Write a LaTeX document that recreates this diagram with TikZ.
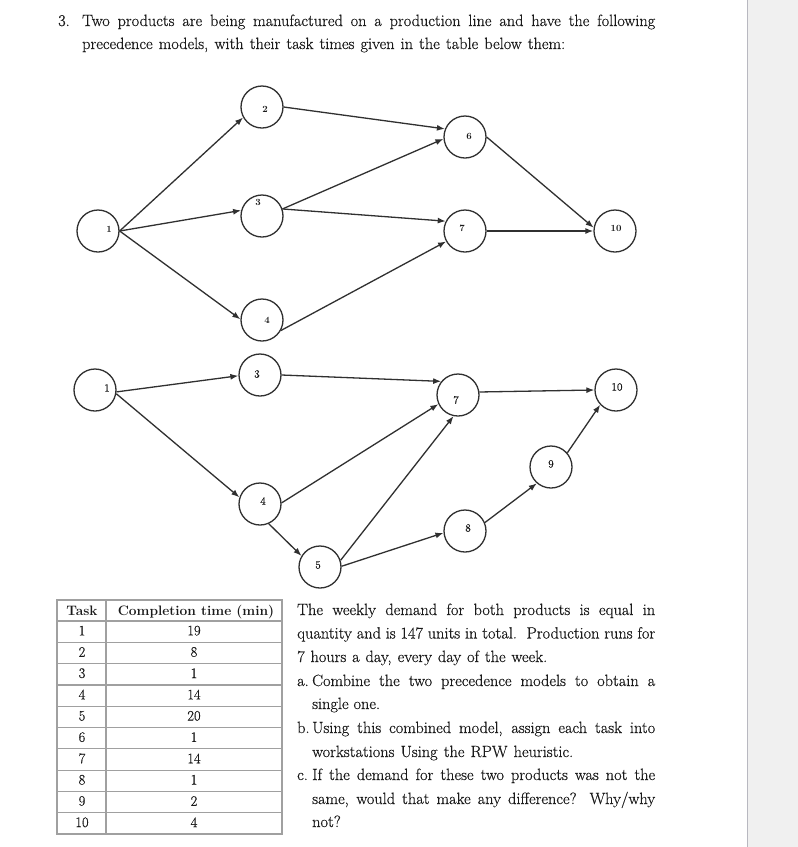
\documentclass[tikz,border=0pt]{standalone}
\usepackage{fontspec}
\newfontfamily\bodyfont{Latin Modern Roman}[FakeBold=0.5]
\usetikzlibrary{arrows.meta}
\definecolor{ink}{HTML}{1A1A1A}
\definecolor{edgec}{HTML}{303030}
\definecolor{tblc}{HTML}{A0A0A0}
\definecolor{sidec}{HTML}{F0F0F0}
\definecolor{sidelinec}{HTML}{B8B8C0}
\tikzset{
  task/.style={circle, draw=edgec, line width=1.3pt, minimum size=42pt, inner sep=0pt},
  lblU/.style={font=\fontsize{9.5}{10}\selectfont\bfseries, text=ink, inner sep=0pt},
  lblL/.style={font=\bodyfont\fontsize{11}{12}\selectfont, text=ink, inner sep=0pt},
  arr/.style={draw=edgec, line width=1.3pt, -{Latex[length=8pt,width=6pt]}},
  txt/.style={anchor=base west, inner sep=0pt, text=ink, font=\bodyfont\fontsize{16.3}{19}\selectfont},
  cell/.style={anchor=center, inner sep=0pt, text=ink, font=\bodyfont\fontsize{14.5}{16}\selectfont},
  hcell/.style={anchor=base, inner sep=0pt, text=ink, font=\fontsize{13.7}{16}\selectfont\bfseries},
  tline/.style={draw=tblc, line width=1.2pt},
}
\begin{document}
\begin{tikzpicture}[x=1pt,y=-1pt]
\useasboundingbox (0,0) rectangle (798,847);
\fill[white] (0,0) rectangle (798,847);
\fill[sidec] (747,0) rectangle (798,847);
\draw[sidelinec, line width=1pt] (747,0) -- (747,847);

% header text
\node[txt] (h1n) at (58,26) {3.};
\node[txt] (h1) at (82,26) {\makebox[573pt][s]{Two products are being manufactured on a production line and have the following}};
\node[txt] (h2) at (82,49) {\makebox[483pt][s]{precedence models, with their task times given in the table below them:}};

% upper precedence model
\node[task, label={[lblU,xshift=11pt,yshift=2pt]center:1}] (u1) at (98,231) {};
\node[task, label={[lblU,xshift=3pt,yshift=-2pt]center:2}] (u2) at (262,107) {};
\node[task, label={[lblU,xshift=-4pt,yshift=14pt]center:3}] (u3) at (262,216) {};
\node[task, label={[lblU,xshift=5pt,yshift=0pt]center:4}] (u4) at (262,320) {};
\node[task, label={[lblU,xshift=4pt,yshift=1pt]center:6}] (u6) at (465,137) {};
\node[task, label={[lblU,xshift=-3pt,yshift=3pt]center:7}] (u7) at (465,231) {};
\node[task, label={[lblU,xshift=1pt,yshift=3pt]center:10}] (u10) at (615,231) {};

\draw[arr] (u1.east) -- (u2.209);
\draw[arr] (u1.east) -- (u3.165);
\draw[arr] (u1.east) -- (u4.178);
\draw[arr] (u2.east) -- (u6.158);
\draw[arr] (u3.19) -- (u6.185);
\draw[arr] (u3.19) -- (u7.153);
\draw[arr] (u4.331) -- (u7.209);
\draw[arr] (u6.east) -- (u10.171);
\draw[arr] (u7.east) -- (u10.west);

% lower precedence model
\node[task, label={[lblL,xshift=12pt,yshift=2pt]center:1}] (l1) at (95,390) {};
\node[task, label={[lblL,xshift=-3pt,yshift=1pt]center:3}] (l3) at (260,375) {};
\node[task, label={[lblL,xshift=3pt,yshift=3pt]center:4}] (l4) at (260,504) {};
\node[task, label={[lblL,xshift=-2pt,yshift=2pt]center:5}] (l5) at (320,567) {};
\node[task, label={[lblL,xshift=-2pt,yshift=-5pt]center:7}] (l7) at (458,395) {};
\node[task, label={[lblL,xshift=1pt,yshift=3pt]center:10}] (l10) at (616,390) {};
\node[task, label={[lblL,xshift=0pt,yshift=3pt]center:9}] (l9) at (551,467) {};
\node[task, label={[lblL,xshift=3pt,yshift=3pt]center:8}] (l8) at (465,531) {};

\draw[arr] (l1.355) -- (l3.182);
\draw[arr] (l1.350) -- (l4.162);
\draw[arr] (l3.east) -- (l7.141);
\draw[arr] (l4.3) -- (l7.205);
\draw[arr] (l5.18) -- (l7.258);
\draw[arr] (l4.294) -- (l5.149);
\draw[arr] (l5.2) -- (l8.185);
\draw[arr] (l8.23) -- (l9.229);
\draw[arr] (l9.41) -- (l10.223);
\draw[arr] (l7.8) -- (l10.west);

% table
\draw[tline] (57,600) rectangle (282,834);
\draw[tline] (106,600) -- (106,834);
\foreach \k in {0,...,9} {
  \draw[tline] (57,{621+21.3*\k}) -- (282,{621+21.3*\k});
}
\node[hcell] (th1) at (82,615.5) {Task};
\node[hcell] (th2) at (196,615.5) {Completion time (min)};
\foreach \t/\v [count=\i] in {1/19,2/8,3/1,4/14,5/20,6/1,7/14,8/1,9/2,10/4} {
  \node[cell] (ta\i) at (82,{621+21.3*(\i-0.5)-1}) {\t};
  \node[cell] (tb\i) at (194,{621+21.3*(\i-0.5)-1}) {\v};
}

% paragraph
\node[txt] (p1) at (297,615) {\makebox[358pt][s]{The weekly demand for both products is equal in}};
\node[txt] (p2) at (297,638.5) {\makebox[358pt][s]{quantity and is 147 units in total.\ \ Production runs for}};
\node[txt] (p3) at (297,662) {\makebox[250pt][s]{7 hours a day, every day of the week.}};
\node[txt] (pa) at (297,686) {a.};
\node[txt] (pa1) at (312,686) {\makebox[343pt][s]{Combine the two precedence models to obtain a}};
\node[txt] (pa2) at (312,709) {single one.};
\node[txt] (pb) at (297,733) {b.};
\node[txt] (pb1) at (312,733) {\makebox[343pt][s]{Using this combined model, assign each task into}};
\node[txt] (pb2) at (312,757) {\makebox[261pt][s]{workstations Using the RPW heuristic.}};
\node[txt] (pc) at (297,780) {c.};
\node[txt] (pc1) at (312,780) {\makebox[343pt][s]{If the demand for these two products was not the}};
\node[txt] (pc2) at (312,804) {\makebox[343pt][s]{same, would that make any difference? Why/why}};
\node[txt] (pc3) at (312,827) {not?};
\end{tikzpicture}
\end{document}
